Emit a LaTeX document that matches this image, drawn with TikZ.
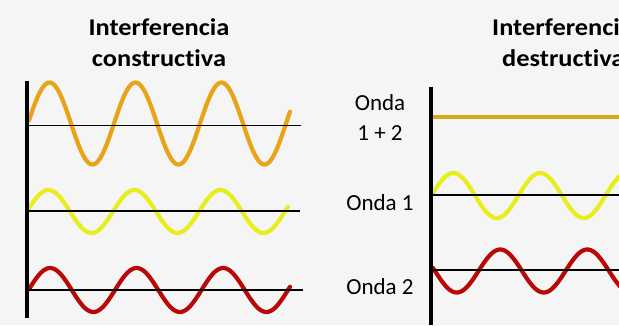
\documentclass[tikz,border=0pt]{standalone}
\usepackage{fontspec}
\setmainfont{Carlito}[Ligatures={NoCommon}]
\definecolor{bg}{HTML}{F5F5F5}
\definecolor{worange}{HTML}{E8A317}
\definecolor{wgold}{HTML}{D9A818}
\definecolor{wyellow}{HTML}{E8EE1E}
\definecolor{wred}{HTML}{B80808}
\tikzset{
  wave/.style={line width=4.2pt, line cap=round, line join=round},
  axisv/.style={line width=4pt, black},
  axish/.style={line width=1.6pt, black},
  title/.style={font=\fontsize{24}{26}\selectfont\bfseries\addfontfeatures{FakeStretch=1.1}, inner sep=0pt},
  lbl/.style={font=\fontsize{23}{26}\selectfont, inner sep=0pt},
}
\begin{document}
\begin{tikzpicture}[x=1pt,y=-1pt]
\fill[bg] (0,0) rectangle (619,325);
\useasboundingbox (0,0) rectangle (619,325);
% titles
\node[title] (t1a) at (159,27) {Interferencia};
\node[title] (t1b) at (159,58) {constructiva};
\node[title, anchor=west] (t2a) at (492,27) {Interferencia};
\node[title, anchor=west] (t2b) at (502,58) {destructiva};
% labels
\node[lbl] (l12a) at (380,103) {Onda};
\node[lbl] (l12b) at (380,133) {1 + 2};
\node[lbl] (l1) at (380,203) {Onda 1};
\node[lbl] (l2) at (380,287) {Onda 2};
% left panel
\coordinate (LA1) at (27,125.5); \coordinate (LB1) at (301,125.5);
\coordinate (LA2) at (27,211); \coordinate (LB2) at (300,211);
\coordinate (LA3) at (27,290); \coordinate (LB3) at (303,290);
\draw[wave, worange] plot[domain=29:290, samples=150] (\x, {123.5-41*sin((360/86)*(\x-28))});
\draw[wave, wyellow] plot[domain=28:288, samples=150] (\x, {211.5-21.5*sin((360/86)*(\x-27))});
\draw[wave, wred] plot[domain=29:290, samples=150] (\x, {290-22*sin((360/86.5)*(\x-28.5))});
\draw[axish] (LA1) -- (LB1);
\draw[axish] (LA2) -- (LB2);
\draw[axish] (LA3) -- (LB3);
\coordinate (LVt) at (27,81); \coordinate (LVb) at (27,318);
\draw[axisv] (LVt) -- (LVb);
% right panel
\coordinate (RA2) at (431,195); \coordinate (RB2) at (619,195);
\coordinate (RA3) at (431,270); \coordinate (RB3) at (619,270);
\coordinate (RA1) at (432,117); \coordinate (RB1) at (619,117);
\draw[wave, wgold, line width=4.6pt, line cap=butt] (RA1) -- (RB1);
\draw[wave, wyellow] plot[domain=433:622, samples=150] (\x, {195.5-22.5*sin((360/87)*(\x-431.5))});
\draw[wave, wred] plot[domain=433:622, samples=150] (\x, {271+21.5*sin((360/87)*(\x-435))});
\draw[axish] (RA2) -- (RB2);
\draw[axish] (RA3) -- (RB3);
\coordinate (RVt) at (431,87); \coordinate (RVb) at (431,325);
\draw[axisv] (RVt) -- (RVb);
\end{tikzpicture}
\end{document}
